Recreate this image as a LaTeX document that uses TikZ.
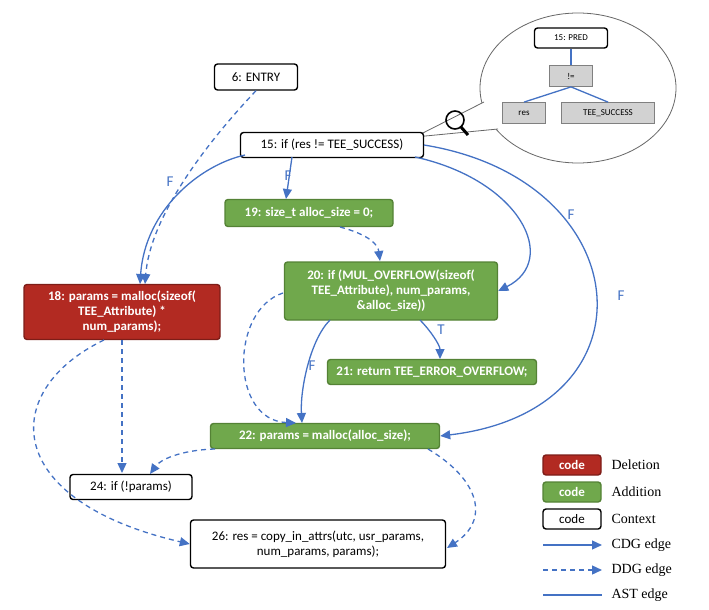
\documentclass[tikz,border=0pt]{standalone}
\usepackage{fontspec}
\setmainfont{Liberation Serif}
\newfontfamily\codefont{Carlito}
\usetikzlibrary{arrows.meta}
\definecolor{delred}{RGB}{178,42,34}
\definecolor{addgreen}{RGB}{112,168,76}
\definecolor{addborder}{RGB}{84,130,53}
\definecolor{edgeblue}{RGB}{68,114,196}
\tikzset{
  code/.style={draw, rounded corners=3pt, line width=1.4pt, align=center,
    font=\codefont\fontsize{13}{15}\selectfont, inner sep=2pt},
  ctx/.style={code, fill=white, draw=black},
  add/.style={code, fill=addgreen, draw=addborder, text=white, font=\codefont\bfseries\fontsize{13}{15}\selectfont},
  del/.style={code, fill=delred, draw=delred!70!black, text=white, font=\codefont\bfseries\fontsize{13}{15}\selectfont},
  ast/.style={draw=gray, fill=gray!35, font=\codefont\fontsize{9}{10}\selectfont, line width=0.8pt},
  cdg/.style={-{Triangle[length=10pt,width=9pt]}, edgeblue, line width=1.3pt},
  ddg/.style={cdg, dash pattern=on 5pt off 4pt},
  astedge/.style={edgeblue, line width=1.3pt},
  lab/.style={text=edgeblue, font=\codefont\fontsize{15}{17}\selectfont},
  legtext/.style={anchor=west, font=\fontsize{14}{16}\selectfont},
}
\begin{document}
\begin{tikzpicture}[x=1pt,y=-1pt]
\useasboundingbox (0,0) rectangle (709,610);
% bubble
\draw[gray!80!black, line width=0.8pt, fill=white] (578,88) ellipse[x radius=98, y radius=75];
\fill[white] (484,102) -- (415,137) -- (498,129) -- (510,110) -- cycle;
\draw[gray!80!black, line width=0.8pt] (484,102) -- (415,137) -- (498,129);
\node[ctx, minimum width=73pt, minimum height=20pt, font=\codefont\fontsize{9}{10}\selectfont] (pred) at (571,38) {15: PRED};
\node[ast, minimum width=43pt, minimum height=21pt] (ne) at (571,76) {!=};
\node[ast, minimum width=43pt, minimum height=21pt] (res) at (524,113) {res};
\node[ast, minimum width=93pt, minimum height=21pt] (succ) at (608,113) {TEE\_SUCCESS};
\draw[astedge] (pred) -- (ne);
\draw[astedge] (ne.south) -- (res.north);
\draw[astedge] (ne.south) -- (succ.north);
% magnifier
\draw[line width=1.6pt] (455,120) circle (9);
\draw[line width=3pt] (461,127) -- (468,135);
% nodes
\node[ctx, minimum width=83pt, minimum height=26pt] (entry) at (256,77) {6: ENTRY};
\node[ctx, minimum width=183pt, minimum height=25pt] (n15) at (332,145) {15: if (res != TEE\_SUCCESS)};
\node[add, minimum width=168pt, minimum height=27pt] (n19) at (309,213) {19: size\_t alloc\_size = 0;};
\node[del, minimum width=196pt, minimum height=55pt] (n18) at (122,312) {18: params = malloc(sizeof(\\TEE\_Attribute) *\\num\_params);};
\node[add, minimum width=213pt, minimum height=58pt] (n20) at (391,291) {20: if (MUL\_OVERFLOW(sizeof(\\TEE\_Attribute), num\_params,\\\&alloc\_size))};
\node[add, minimum width=209pt, minimum height=25pt] (n21) at (432,372) {21: return TEE\_ERROR\_OVERFLOW;};
\node[add, minimum width=229pt, minimum height=25pt] (n22) at (325,436) {22: params = malloc(alloc\_size);};
\node[ctx, minimum width=122pt, minimum height=25pt] (n24) at (131,487) {24: if (!params)};
\node[ctx, minimum width=255pt, minimum height=48pt] (n26) at (318,544) {26: res = copy\_in\_attrs(utc, usr\_params,\\num\_params, params);};
% edges
\draw[ddg] (entry.south) .. controls (200,150) and (150,220) .. (145,284);
\draw[cdg] (245,155) .. controls (200,165) and (145,210) .. (140,284);
\node[lab] at (170,182) {F};
\draw[cdg] (292,157) -- (286,199);
\node[lab] at (288,176) {F};
\draw[cdg] (415,157) .. controls (520,180) and (560,260) .. (n20.east);
\node[lab] at (571,215) {F};
\draw[cdg] (424,145) .. controls (640,180) and (660,410) .. (n22.east);
\node[lab] at (621,296) {F};
\draw[ddg] (340,227) .. controls (370,235) and (378,245) .. (380,261);
\draw[ddg] (122,340) -- (122,473);
\draw[ddg] (104,340) .. controls (0,390) and (0,500) .. (n26.west);
\draw[cdg] (420,320) .. controls (430,330) and (440,345) .. (440,359);
\node[lab] at (441,330) {T};
\draw[cdg] (330,320) .. controls (310,340) and (300,390) .. (302,423);
\node[lab] at (312,366) {F};
\draw[ddg] (283,293) .. controls (230,310) and (230,420) .. (296,423);
\draw[ddg] (215,449) .. controls (180,450) and (160,460) .. (150,474);
\draw[ddg] (428,449) .. controls (480,480) and (490,520) .. (447,548);
% legend
\node[del, minimum width=58pt, minimum height=20pt] (l1) at (572,465) {code};
\node[add, minimum width=58pt, minimum height=20pt] (l2) at (572,492) {code};
\node[ctx, minimum width=58pt, minimum height=20pt] (l3) at (572,519) {code};
\node[legtext] at (608,465) {Deletion};
\node[legtext] at (608,492) {Addition};
\node[legtext] at (608,519) {Context};
\coordinate (c1) at (543,545); \coordinate (c2) at (602,545);
\coordinate (d1) at (543,570); \coordinate (d2) at (602,570);
\coordinate (a1) at (543,595); \coordinate (a2) at (602,595);
\draw[cdg] (c1) -- (c2);
\draw[ddg] (d1) -- (d2);
\draw[astedge] (a1) -- (a2);
\node[legtext] at (608,545) {CDG edge};
\node[legtext] at (608,570) {DDG edge};
\node[legtext] at (608,595) {AST edge};
\end{tikzpicture}
\end{document}
